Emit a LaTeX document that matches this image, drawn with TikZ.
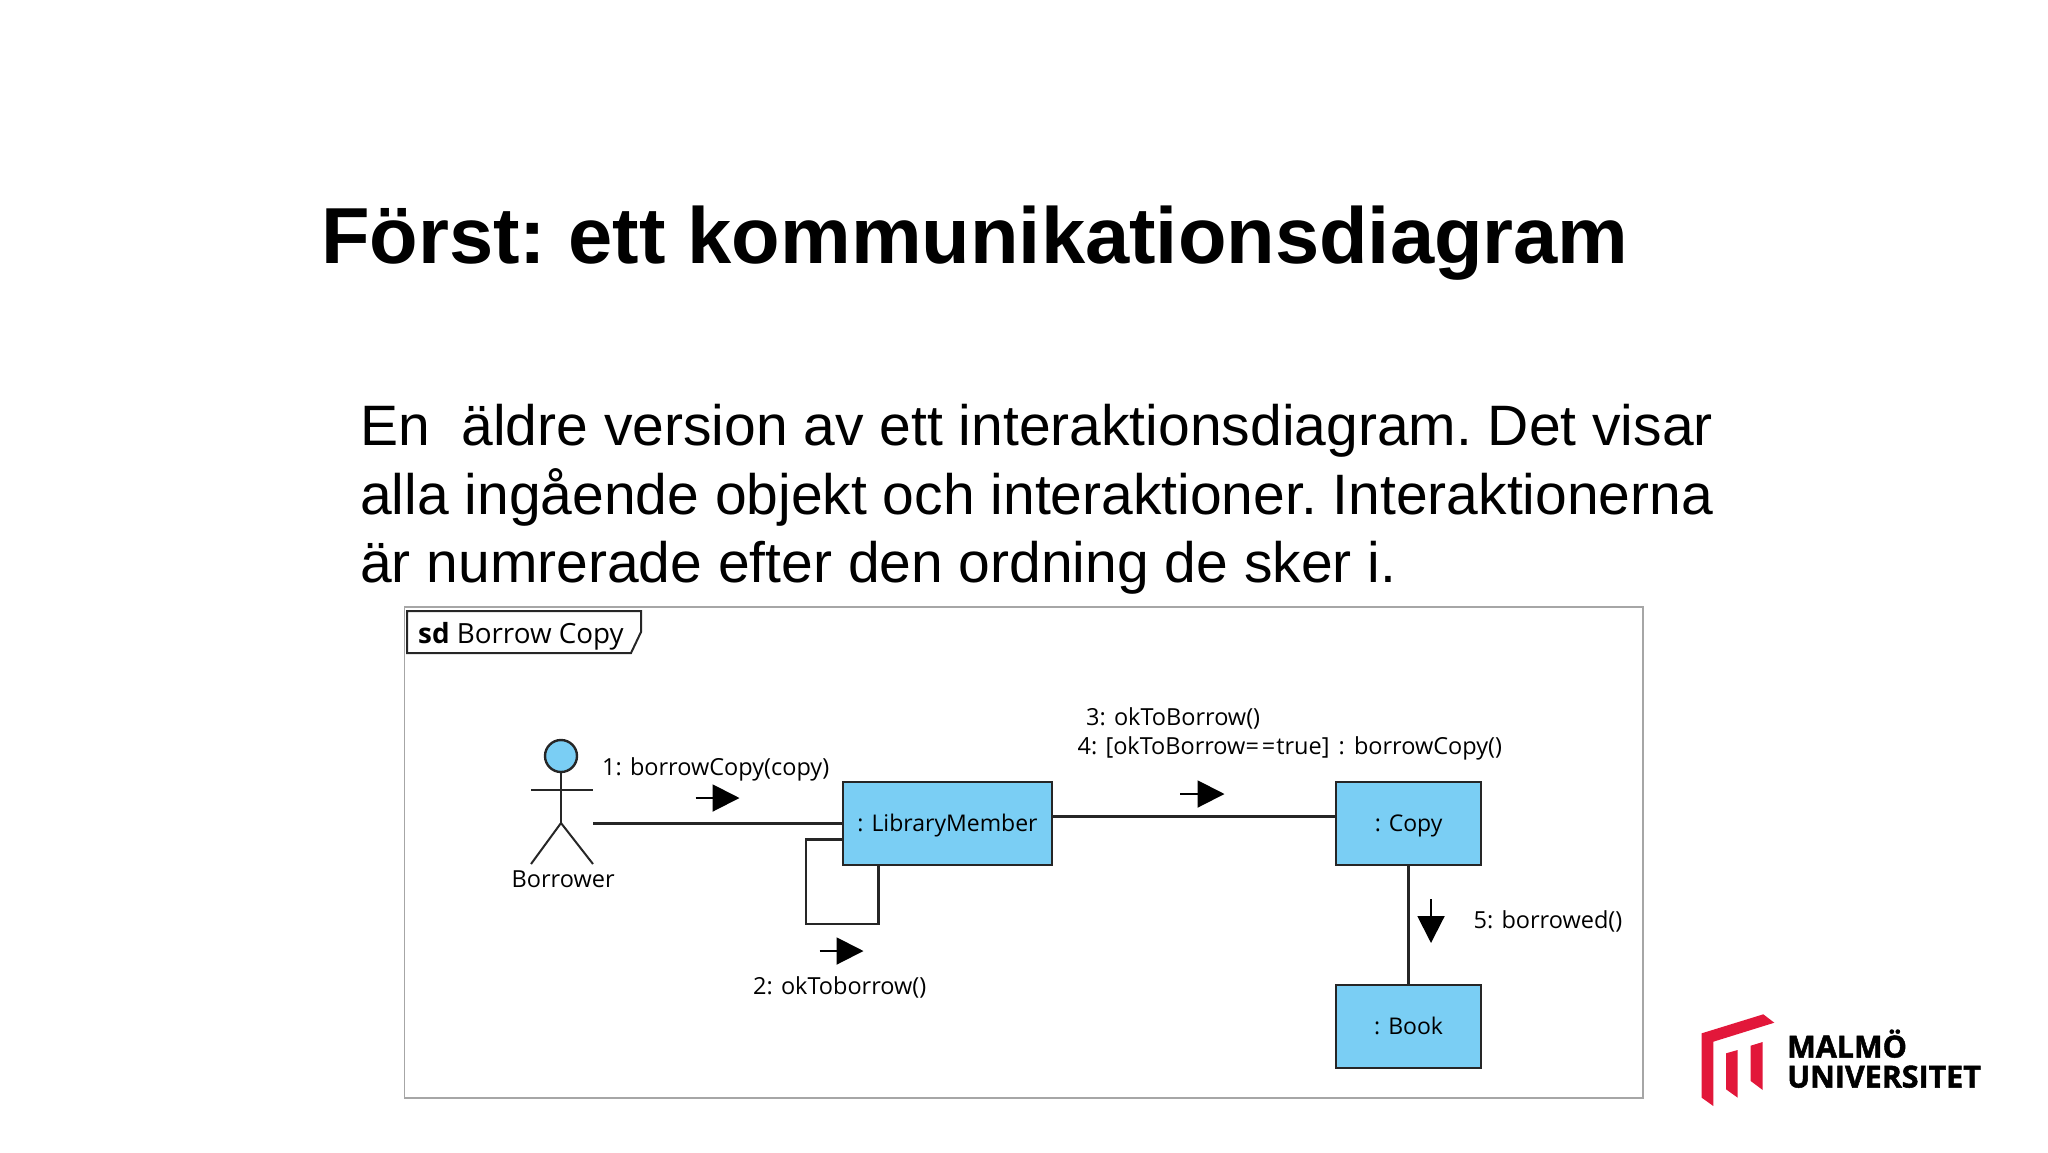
\documentclass[tikz,border=0pt]{standalone}
\usepackage{fontspec}
\setmainfont{Liberation Sans}
\newfontfamily\umlfont{Open Sans}
\newfontfamily\logofont{Open Sans}[BoldFeatures={FakeBold=1.6}]
\usetikzlibrary{positioning, arrows.meta}

\definecolor{umlblue}{HTML}{7ACEF4}
\definecolor{framegray}{HTML}{A6A6A6}
\definecolor{logored}{HTML}{E2173A}

\begin{document}
\begin{tikzpicture}[
        x=1pt, y=-1pt,
        % Stile del testo
        slidetitle/.style={anchor=base west, inner sep=0pt, font=\fontsize{79.5}{90}\selectfont\bfseries\frenchspacing},
        slidebody/.style={anchor=base west, inner sep=0pt, align=left, font=\fontsize{57}{68.5}\selectfont\frenchspacing},
        umllabel/.style={anchor=base west, inner sep=0pt, font=\fontsize{23.5}{28}\selectfont\umlfont},
        logotext/.style={anchor=base west, inner sep=0pt, font=\fontsize{30.4}{32}\selectfont\logofont\bfseries},
        % Stile dei rettangoli
        objbox/.style={
            draw=black!85,
            line width=2.6pt,
            fill=umlblue,
            minimum height=83pt,
            text height=15pt,
            text depth=0pt,
            inner sep=0pt,
            font=\fontsize{23}{28}\selectfont\umlfont
        },
        umlline/.style={line width=2.4pt, draw=black!85},
        stickline/.style={line width=2pt, draw=black!85},
        % Frecce dei messaggi
        msgarrow/.style={line width=2pt, -{Triangle[length=27pt,width=27pt]}},
    ]

    \useasboundingbox (0,0) rectangle (2048,1152);

    % Titolo e testo
    \node[slidetitle] (title) at (321,263) {Först: ett kommunikationsdiagram};
    \node[slidebody] (body) at (360,582.5) {En\ \ äldre version av ett interaktionsdiagram. Det visar\\
        alla ingående objekt och interaktioner. Interaktionerna\\
        är numrerade efter den ordning de sker i.};

    % Cornice
    \node[draw=framegray, line width=1.6pt, minimum width=1238.5pt, minimum height=490.5pt, inner sep=0pt] (frame) at (1023.75,852.5) {};
    \draw[line width=2pt, draw=black!85] (407,611) -- (641,611) -- (641,632) -- (631,653) -- (407,653) -- cycle;
    \node[umllabel, font=\fontsize{27.8}{30}\selectfont\umlfont] (framelabel) at (418,643) {\textbf{sd} Borrow Copy};

    % Attore
    \node[circle, draw=black!85, line width=2.4pt, fill=umlblue, minimum size=32pt, inner sep=0pt] (head) at (561,756) {};
    \coordinate (hip) at (561,823);
    \coordinate (armleft) at (531,790);
    \coordinate (armright) at (593,790);
    \coordinate (footleft) at (531,864);
    \coordinate (footright) at (593,864);
    \draw[stickline] (head) -- (hip);
    \draw[stickline] (armleft) -- (armright);
    \draw[stickline] (footleft) -- (hip) -- (footright);
    \node[umllabel] (borrower) at (511.5,887) {Borrower};

    % Oggetti
    \node[objbox, minimum width=209pt] (member) at (947.5,823.5) {: LibraryMember};
    \node[objbox, minimum width=145pt, right=281.5pt of member.east, anchor=west] (copy) {: Copy};
    \node[objbox, minimum width=145pt, below=117.5pt of copy] (book) {: Book};

    % Collegamenti
    \coordinate (actorport) at (593,823.5);
    \coordinate (loopcorner) at (806,924);
    \draw[umlline] (actorport) -- (member);
    \draw[umlline] ([yshift=7pt]member.east) -- ([yshift=7pt]copy.west);
    \draw[umlline] ([yshift=-16pt]member.west) -| (loopcorner) -| ([xshift=-69pt]member.south);
    \draw[umlline] (copy) -- (book);

    % Frecce diagonali
    \coordinate (msgonestart) at (695.5,798);
    \coordinate (msgoneend) at (739.5,798);
    \coordinate (msgtwostart) at (819.5,951);
    \coordinate (msgtwoend) at (863.5,951);
    \coordinate (msgthreestart) at (1180,794);
    \coordinate (msgthreeend) at (1224.5,794);
    \coordinate (msgfivestart) at (1431,899);
    \coordinate (msgfiveend) at (1431,943);
    \draw[msgarrow] (msgonestart) -- (msgoneend);
    \draw[msgarrow] (msgtwostart) -- (msgtwoend);
    \draw[msgarrow] (msgthreestart) -- (msgthreeend);
    \draw[msgarrow] (msgfivestart) -- (msgfiveend);

    % Etichette
    \node[umllabel] (labelone) at (602,775) {1: borrowCopy(copy)};
    \node[umllabel] (labeltwo) at (753,994) {2: okToborrow()};
    \node[umllabel] (labelthree) at (1086,725) {3: okToBorrow()};
    \node[umllabel] (labelfour) at (1077.5,754) {4: [okToBorrow=\kern3pt=\kern1pt true]\kern3pt\ :\ \kern3pt borrowCopy()};
    \node[umllabel] (labelfive) at (1473.5,928) {5: borrowed()};

    % Logo
    \fill[logored] (1701.7,1033.3) -- (1763.3,1014.3) -- (1774.3,1022.7) -- (1713.3,1041.7) -- (1713.3,1106) -- (1701.7,1097.7) -- cycle;
    \fill[logored] (1726,1053.3) -- (1737.7,1050) -- (1737.7,1097.7) -- (1726,1089.3) -- cycle;
    \fill[logored] (1750.7,1045.7) -- (1762.7,1042) -- (1762.7,1090) -- (1750.7,1081) -- cycle;
    \node[logotext] (logoone) at (1787,1057.5) {MALMÖ};
    \node[logotext] (logotwo) at (1787,1087.5) {UNIVERSITET};

\end{tikzpicture}
\end{document}
